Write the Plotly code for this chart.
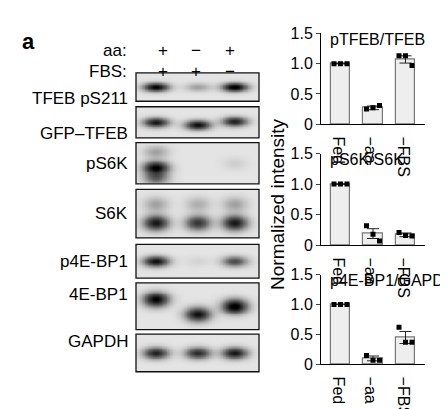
import numpy as np
import plotly.graph_objects as go

W, H = 448, 409
def px(x): return x / W
def py(y): return 1 - y / H

# ---- data ----
conditions = ["Fed", "\u2212aa", "\u2212FBS"]
aa_row = ["+", "\u2212", "+"]
fbs_row = ["+", "+", "\u2212"]
blot_labels = ["TFEB pS211", "GFP\u2013TFEB", "pS6K", "S6K", "p4E-BP1", "4E-BP1", "GAPDH"]
# per panel: list of bands (vertical position fraction, per-lane intensity, per-lane y offset)
blot_bands = [
    [(0.5, [0.95, 0.25, 1.0], [0, 0, 0])],
    [(0.5, [0.85, 0.9, 0.8], [0, 0.08, -0.03])],
    [(0.22, [0.25, 0.0, 0.0], [0, 0, 0]), (0.6, [0.95, 0.0, 0.08], [0, 0, -0.1]), (0.85, [0.5, 0.0, 0.0], [0, 0, 0])],
    [(0.3, [0.25, 0.2, 0.25], [0, 0, 0]), (0.68, [0.85, 0.7, 0.85], [0, 0, 0])],
    [(0.5, [0.9, 0.06, 0.6], [0, 0, 0])],
    [(0.45, [0.95, 0.9, 1.0], [-0.1, 0.22, 0.05])],
    [(0.5, [0.8, 0.75, 0.85], [0, 0, 0])],
]
blot_rows_px = [(62, 93), (99, 133), (138, 183), (189, 242), (249, 286), (291, 342), (347, 388)]

bar_titles = ["pTFEB/TFEB", "pS6K/S6K", "p4E-BP1/GAPDH"]
bar_means = [[1.0, 0.27, 1.07], [1.0, 0.19, 0.17], [1.0, 0.10, 0.45]]
bar_sem = [[0.0, 0.03, 0.06], [0.0, 0.08, 0.03], [0.0, 0.04, 0.10]]
bar_points = [
    [[1.0, 1.0, 1.0], [0.25, 0.27, 0.31], [1.13, 1.13, 0.97]],
    [[1.0, 1.0, 1.0], [0.32, 0.18, 0.07], [0.21, 0.16, 0.15]],
    [[1.0, 1.0, 1.0], [0.15, 0.07, 0.07], [0.62, 0.37, 0.37]],
]
bar_rows_px = [(19, 118), (150, 250), (282, 380)]

fig = go.Figure()
lane_x = [0.16, 0.5, 0.8]
xs = np.linspace(0, 1, 80)
ys = np.linspace(0, 1, 50)
X, Y = np.meshgrid(xs, ys)
for i, bands in enumerate(blot_bands):
    z = np.full(X.shape, 0.05)
    for (yc, ints, offs) in bands:
        for lx, it, off in zip(lane_x, ints, offs):
            z += it * np.exp(-((X - lx) / 0.1) ** 2 - ((Y - yc - off) / 0.15) ** 2)
    z = np.clip(z, 0, 1)
    n = i + 1
    fig.add_trace(go.Heatmap(z=z, x=xs, y=ys, xaxis=f"x{n}", yaxis=f"y{n}", zsmooth="best",
                             colorscale=[[0, "#f2f2f2"], [0.5, "#6a6a6a"], [1, "#000"]],
                             zmin=0, zmax=1, showscale=False, hoverinfo="skip"))
    y0, y1 = blot_rows_px[i]
    fig.layout[f"xaxis{n}"] = dict(domain=[px(128), px(251)], range=[0, 1], visible=False, anchor=f"y{n}")
    fig.layout[f"yaxis{n}"] = dict(domain=[py(y1), py(y0)], range=[1, 0], visible=False, anchor=f"x{n}")
    fig.add_shape(type="rect", xref="paper", yref="paper", x0=px(128), x1=px(251),
                  y0=py(y1), y1=py(y0), line=dict(color="#111", width=1.3))
    fig.add_annotation(text=blot_labels[i], x=px(122), y=py((y0 + y1) / 2), xref="paper", yref="paper",
                       xanchor="right", showarrow=False, font=dict(size=17))

for j, (a, f) in enumerate(zip(aa_row, fbs_row)):
    for txt, yy in ((a, 25), (f, 48)):
        fig.add_annotation(text=txt, x=px([148, 188, 222][j]), y=py(yy), xref="paper", yref="paper",
                           showarrow=False, font=dict(size=17))
fig.add_annotation(text="aa:", x=px(121), y=py(25), xref="paper", yref="paper", xanchor="right", showarrow=False, font=dict(size=17))
fig.add_annotation(text="FBS:", x=px(121), y=py(48), xref="paper", yref="paper", xanchor="right", showarrow=False, font=dict(size=17))
fig.add_annotation(text="<b>a</b>", x=px(12), y=py(12), xref="paper", yref="paper", xanchor="left", showarrow=False, font=dict(size=22))

for k in range(3):
    n = 8 + k
    fig.add_trace(go.Bar(x=[0, 1, 2], y=bar_means[k], width=0.6, xaxis=f"x{n}", yaxis=f"y{n}",
                         marker=dict(color="#eeeeee", line=dict(color="#777", width=1.2)),
                         error_y=dict(type="data", array=bar_sem[k], color="#222", thickness=1, width=6),
                         showlegend=False))
    px_list, py_list = [], []
    for c in range(3):
        for m, v in enumerate(bar_points[k][c]):
            px_list.append(c + (m - 1) * 0.2)
            py_list.append(v)
    fig.add_trace(go.Scatter(x=px_list, y=py_list, mode="markers", xaxis=f"x{n}", yaxis=f"y{n}",
                             marker=dict(symbol="square", size=5, color="#000"), showlegend=False))
    y0, y1 = bar_rows_px[k]
    fig.layout[f"xaxis{n}"] = dict(domain=[px(313), px(417)], range=[-0.6, 2.6], anchor=f"y{n}",
                                   tickvals=[0, 1, 2], ticktext=conditions, showline=True, linecolor="#000",
                                   ticks="", tickfont=dict(size=16, color="#000"), showgrid=False, zeroline=False)
    fig.layout[f"yaxis{n}"] = dict(domain=[py(y1), py(y0)], range=[0, 1.5], anchor=f"x{n}",
                                   tickvals=[0, 0.5, 1.0, 1.5], ticktext=["0", "0.5", "1.0", "1.5"],
                                   showline=True, linecolor="#000", ticks="outside", ticklen=4,
                                   tickfont=dict(size=16, color="#000"), showgrid=False, zeroline=False)
    fig.add_annotation(text=bar_titles[k], x=px(320), y=py(y0 - 5), xref="paper", yref="paper",
                       xanchor="left", yanchor="top", showarrow=False, font=dict(size=16))

fig.add_annotation(text="Normalized intensity", x=px(270), y=py(205), xref="paper", yref="paper",
                   textangle=-90, showarrow=False, font=dict(size=19))

fig.update_layout(width=W, height=H, margin=dict(l=0, r=0, t=0, b=0), plot_bgcolor="white",
                  paper_bgcolor="white", font=dict(family="Liberation Sans, Arial", color="#000"), bargap=0)
fig.write_html("out.html")
